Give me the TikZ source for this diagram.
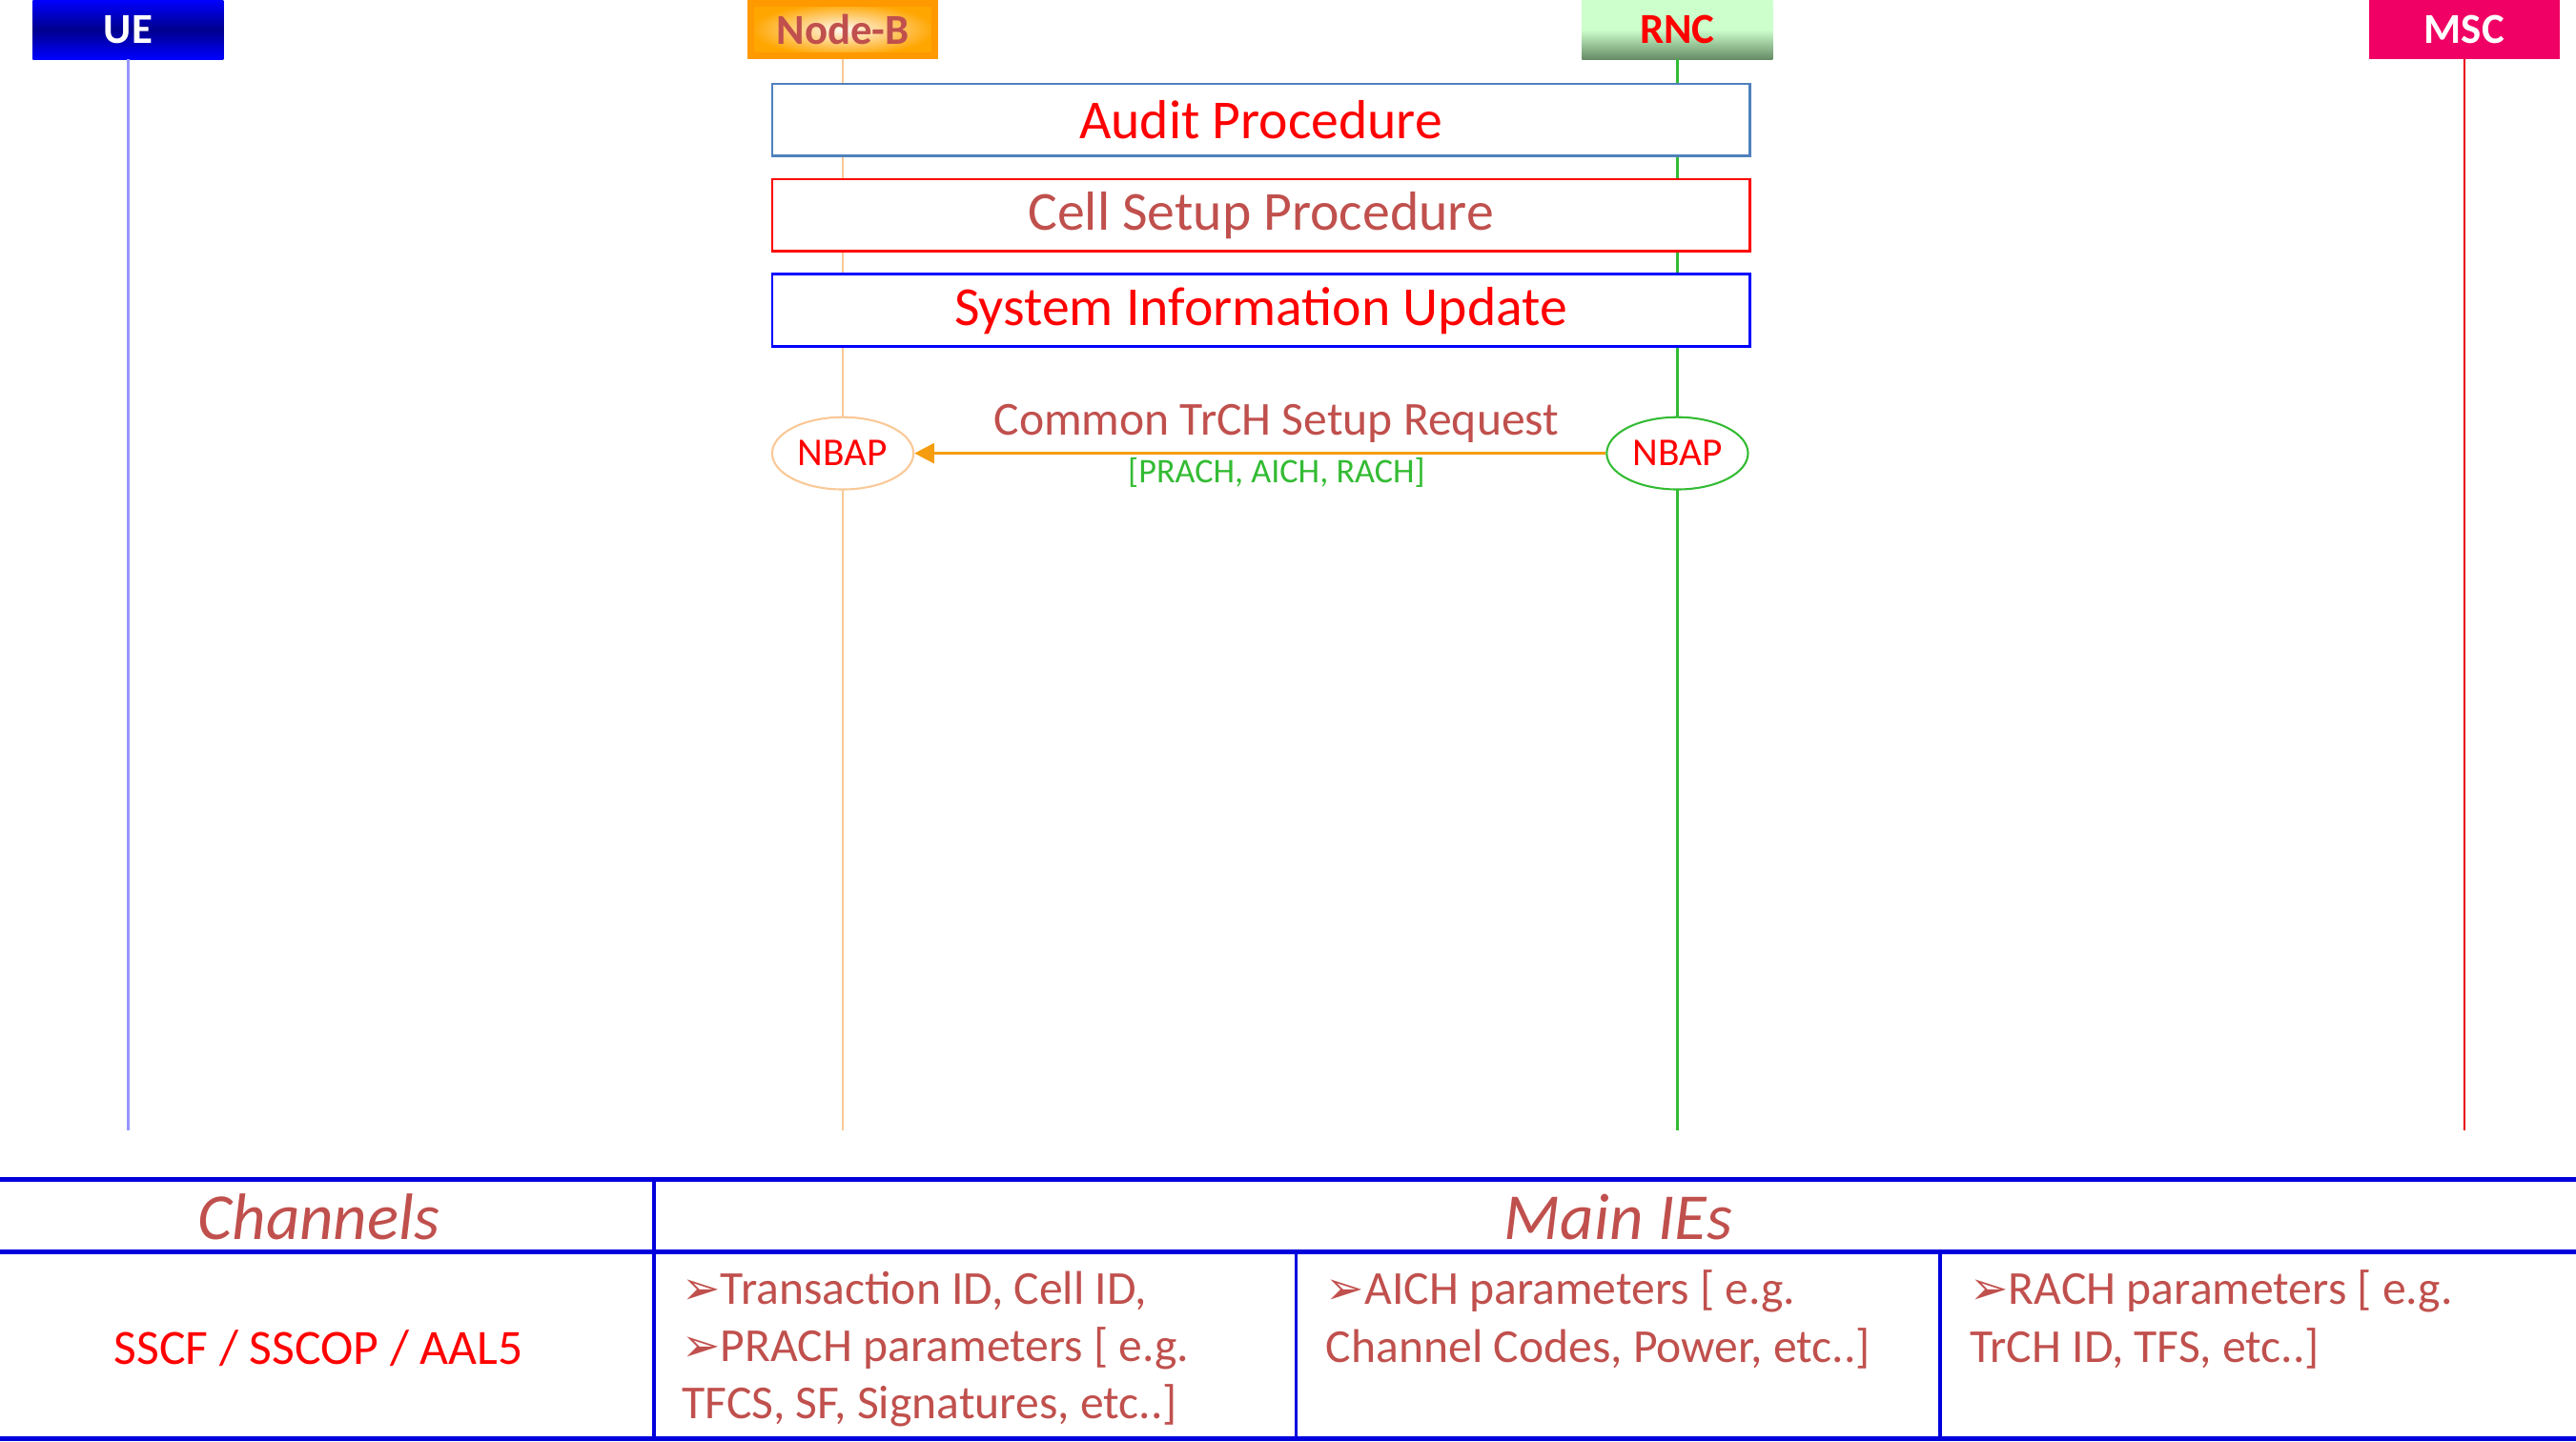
\documentclass[tikz,border=0pt]{standalone}
\usepackage{fontspec}
\setmainfont{Carlito}
\newfontfamily\dv{DejaVu Sans}
\usetikzlibrary{arrows.meta,shapes.geometric}
\definecolor{brick}{HTML}{C0504D}
\definecolor{tblue}{HTML}{0000DD}
\definecolor{aorange}{HTML}{F59D0E}
\definecolor{lgreen}{HTML}{33BB33}
\newcommand{\arr}{{\dv\fontsize{28}{28}\selectfont ➢}}
\begin{document}
\begin{tikzpicture}[x=1pt,y=-1pt,
 hdr/.style={minimum width=116pt,minimum height=36pt,inner sep=0pt,font=\bfseries\fontsize{26}{28}\selectfont},
 proc/.style={draw,line width=1.5pt,minimum width=595pt,minimum height=44pt,inner sep=0pt,font=\fontsize{33.5}{35}\selectfont},
 nbap/.style={ellipse,draw,line width=1.2pt,minimum width=86pt,minimum height=44pt,inner sep=0pt,text=red,font=\fontsize{24}{26}\selectfont},
 life/.style={line width=1.5pt},
 tline/.style={tblue,line width=2pt},
 cell/.style={anchor=west,text=brick,inner sep=2pt,font=\fontsize{28.8}{30}\selectfont}]
\useasboundingbox (0,0) rectangle (1568,878);
% headers
\node[hdr,top color=blue,bottom color=blue,middle color=blue!55!black,text=white] (ue) at (78,18) {UE};
\node[hdr,draw=orange!80!yellow,line width=4pt,inner color=orange!5,outer color=orange!70!yellow,text=brick,minimum width=112pt,minimum height=32pt] (nb) at (513,18) {Node-B};
\node[hdr,top color=green!20,bottom color=green!25!black!60,middle color=green!20!white,text=red] (rnc) at (1021,18) {RNC};
\node[hdr,fill={rgb,255:red,240;green,0;blue,100},text=white] (msc) at (1500,18) {MSC};
% lifelines
\coordinate (ueb) at (78,688); \coordinate (nbb) at (513,688);
\coordinate (rncb) at (1021,688); \coordinate (mscb) at (1500,688);
\draw[life,color={rgb,255:red,150;green,150;blue,255}] (ue.south) -- (ueb);
\draw[life,color={rgb,255:red,250;green,200;blue,150}] (nb.south) -- (nbb);
\draw[life,lgreen] (rnc.south) -- (rncb);
\draw[life,red!90!black] (msc.south) -- (mscb);
% procedures
\node[proc,draw={rgb,255:red,79;green,129;blue,189},fill=white,text=red] (audit) at (767.5,73) {Audit Procedure};
\node[proc,draw=red,fill=white,text=brick] (cell) at (767.5,131) {Cell Setup Procedure};
\node[proc,draw=blue,fill=white,text=red] (sys) at (767.5,189) {System Information Update};
% NBAP
\node[nbap,draw={rgb,255:red,250;green,200;blue,150},fill=white] (n1) at (513,276) {NBAP};
\node[nbap,draw=lgreen,fill=white] (n2) at (1021,276) {NBAP};
\draw[aorange,line width=2pt,-{Triangle[length=12pt,width=12pt]}] (n2) -- (n1);
\node[text=brick,font=\fontsize{28.8}{30}\selectfont] (m1) at (777,258) {Common TrCH Setup Request};
\node[text=lgreen,font=\fontsize{21}{22}\selectfont] (m2) at (777,288) {[PRACH, AICH, RACH]};
% table
\coordinate (t1l) at (0,718); \coordinate (t1r) at (1568,718);
\coordinate (t2l) at (0,762); \coordinate (t2r) at (1568,762);
\coordinate (t3l) at (0,876); \coordinate (t3r) at (1568,876);
\draw[tline,line width=3pt] (t1l) -- (t1r);
\draw[tline,line width=3pt] (t2l) -- (t2r);
\draw[tline,line width=3pt] (t3l) -- (t3r);
\coordinate (v1a) at (398,718); \coordinate (v1b) at (398,876);
\coordinate (v2a) at (789,762); \coordinate (v2b) at (789,876);
\coordinate (v3a) at (1181,762); \coordinate (v3b) at (1181,876);
\draw[tline] (v1a) -- (v1b); \draw[tline] (v2a) -- (v2b); \draw[tline] (v3a) -- (v3b);
\node[text=brick,font=\itshape\fontsize{40}{42}\selectfont] (ch) at (194,741) {Channels};
\node[text=brick,font=\itshape\fontsize{40}{42}\selectfont] (ie) at (985,741) {Main IEs};
\node[text=red,font=\fontsize{30}{32}\selectfont] (ss) at (194,821) {SSCF / SSCOP / AAL5};
\node[cell] (c1) at (413,786) {\arr Transaction ID, Cell ID,};
\node[cell] (c2) at (413,821) {\arr PRACH parameters [ e.g.};
\node[cell] (c3) at (413,856) {TFCS, SF, Signatures, etc..]};
\node[cell] (d1) at (805,786) {\arr AICH parameters [ e.g.};
\node[cell] (d2) at (805,821) {Channel Codes, Power, etc..]};
\node[cell] (e1) at (1197,786) {\arr RACH parameters [ e.g.};
\node[cell] (e2) at (1197,821) {TrCH ID, TFS, etc..]};
\end{tikzpicture}
\end{document}
